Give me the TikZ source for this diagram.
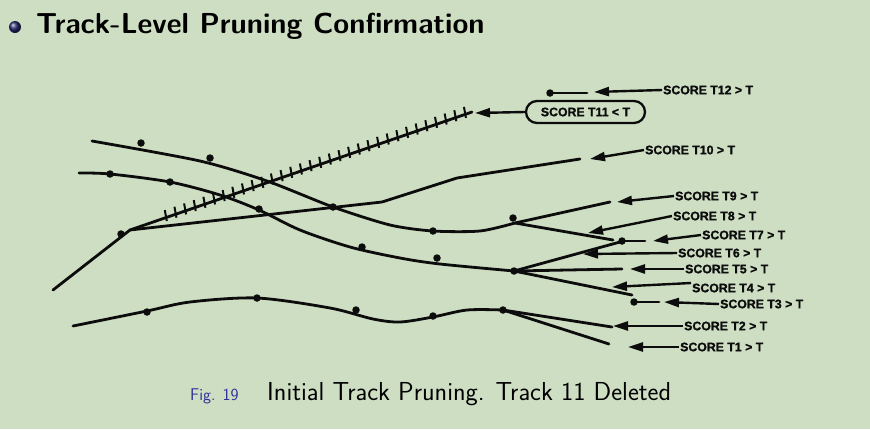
\documentclass[tikz,border=0pt]{standalone}
\usepackage{fontspec}
\newfontfamily\labfont{Liberation Sans}[BoldFeatures={FakeBold=1.2}]
\usetikzlibrary{arrows.meta,shapes.misc}
\definecolor{bgc}{RGB}{206,222,195}
\definecolor{ink}{RGB}{12,12,12}
\definecolor{figblue}{RGB}{50,50,150}
\definecolor{ballc}{RGB}{40,40,110}
\begin{document}
\begin{tikzpicture}[x=1pt,y=-1pt,
  track/.style={draw=ink,line width=2.8pt,line cap=round,line join=round},
  hit/.style={fill=ink,circle,inner sep=0pt,minimum size=7.5pt},
  lab/.style={font=\labfont\bfseries\fontsize{12.3}{13}\selectfont,text=ink,inner sep=1pt,anchor=west},
  ptr/.style={draw=ink,line width=2.4pt,-{Triangle[length=15pt,width=9pt]}},
  hatch/.style={draw=ink,line width=2pt}]
\fill[bgc] (0,0) rectangle (870,429);
\useasboundingbox (0,0) rectangle (870,429);
% title
\shade[ball color=ballc] (15,27) circle (6);
\node[anchor=base west,inner sep=0pt,font=\sffamily\bfseries\fontsize{28.9}{32}\selectfont] (title) at (36,33) {Track-Level Pruning Confirmation};
% caption
\node[anchor=base west,inner sep=0pt,text=figblue,font=\sffamily\fontsize{17}{19}\selectfont] (fig) at (190,400) {Fig. 19};
\node[anchor=base west,inner sep=0pt,font=\sffamily\fontsize{26}{29}\selectfont] (cap) at (267,400) {Initial Track Pruning. Track 11 Deleted};
% tracks
\path[track] plot[smooth,tension=0.45] coordinates {(92,141) (200,161) (267,181) (333,207) (390,225) (433,231) (480,231) (515,223)} -- (610,202);
\path[track] (515,223) -- (613,240);
\path[track] (53,290) -- (130,230) -- (382,202) -- (457,178) -- (580,159);
\path[track] plot[smooth,tension=0.5] coordinates {(79,173) (110,174) (170,182) (220,195) (259,210) (300,230) (350,247) (400,258) (440,264) (514,271)};
\path[track] (514,271) -- (620,242);
\path[track] (514,271) -- (622,269);
\path[track] (514,271) -- (632,295);
\path[track] plot[smooth,tension=0.5] coordinates {(73,326) (147,311) (190,302) (257,298) (330,308) (373,319) (400,322) (433,317) (467,310) (503,310)};
\path[track] (503,310) -- (612,327);
\path[track] (503,310) -- (609,344);
% hatched (deleted) track 11
\coordinate (h1) at (130,230);
\coordinate (h2) at (472,112);
\path[track] (h1) -- (h2);
\foreach \i in {0,...,31} {
  \pgfmathsetmacro{\hx}{166+\i*9.65}
  \pgfmathsetmacro{\hy}{230-0.345*(\hx-130)}
  \draw[hatch] (\hx-1.2,\hy-7.5) -- (\hx+0.8,\hy+3.5);
}
% short stubs
\path[track] (550,93) -- (587,93);
\path[track] (622,241) -- (645,241);
\path[track] (634,302) -- (659,302);
% hits
\foreach \p in {(141,143),(210,158),(110,174),(170,182),(121,234),(259,209),(333,207),(433,231),(513,218),(362,247),(437,258),(514,271),(550,93),(622,241),(634,302),(147,312),(257,298),(356,310),(433,316),(503,310)}
  \node[hit] at \p {};
% labels
\node[lab] (l12) at (662,90) {SCORE T12 > T};
\node[draw=ink,line width=2.3pt,rounded rectangle,minimum width=119pt,minimum height=22pt,inner sep=0pt,font=\labfont\bfseries\fontsize{12.3}{13}\selectfont,text=ink] (l11) at (585.5,112) {SCORE T11 < T};
\node[lab] (l10) at (644,150) {SCORE T10 > T};
\node[lab] (l9) at (674,196) {SCORE T9 > T};
\node[lab] (l8) at (672,216) {SCORE T8 > T};
\node[lab] (l7) at (701,235) {SCORE T7 > T};
\node[lab] (l6) at (677,253) {SCORE T6 > T};
\node[lab] (l5) at (684,269) {SCORE T5 > T};
\node[lab] (l4) at (691,288) {SCORE T4 > T};
\node[lab] (l3) at (719,304) {SCORE T3 > T};
\node[lab] (l2) at (683,326) {SCORE T2 > T};
\node[lab] (l1) at (679,347) {SCORE T1 > T};
% arrow tips
\coordinate (a12) at (594,92);
\coordinate (a11) at (475,113);
\coordinate (a10) at (590,159);
\coordinate (a9) at (617,202);
\coordinate (a8) at (588,233);
\coordinate (a7) at (653,241);
\coordinate (a6) at (583,254);
\coordinate (a5) at (630,269);
\coordinate (a4) at (612,287);
\coordinate (a3) at (664,302);
\coordinate (a2) at (613,326);
\coordinate (a1) at (628,347);
\draw[ptr] (l12.west) -- (a12);
\draw[ptr] (l11.west) -- (a11);
\draw[ptr] (l10.west) -- (a10);
\draw[ptr] (l9.west) -- (a9);
\draw[ptr] (l8.west) -- (a8);
\draw[ptr] (l7.west) -- (a7);
\draw[ptr] (l6.west) -- (a6);
\draw[ptr] (l5.west) -- (a5);
\draw[ptr] ([yshift=5pt]l4.west) -- (a4);
\draw[ptr] (l3.west) -- (a3);
\draw[ptr] (l2.west) -- (a2);
\draw[ptr] (l1.west) -- (a1);
\end{tikzpicture}
\end{document}
